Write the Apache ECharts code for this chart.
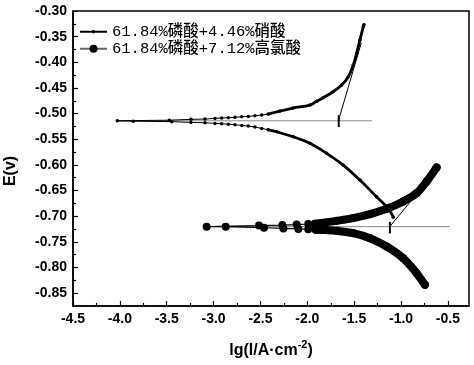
<!DOCTYPE html>
<html>
<head>
<meta charset="utf-8">
<script src="https://cdn.jsdelivr.net/npm/echarts@6/dist/echarts.min.js"></script>
<style>
html,body{margin:0;padding:0;background:#fff;}
#chart{width:474px;height:365px;}
</style>
</head>
<body>
<div id="chart"></div>
<script>
// ---- data ----
const seriesNames = ['61.84%磷酸+4.46%硝酸', '61.84%磷酸+7.12%高氯酸'];

const xTicks = [-4.5, -4.0, -3.5, -3.0, -2.5, -2.0, -1.5, -1.0, -0.5];
const xMinorTicks = [-4.25, -3.75, -3.25, -2.75, -2.25, -1.75, -1.25, -0.75];
const yTicks = [-0.85, -0.80, -0.75, -0.70, -0.65, -0.60, -0.55, -0.50, -0.45, -0.40, -0.35, -0.30];
const yMinorTicks = [-0.825, -0.775, -0.725, -0.675, -0.625, -0.575, -0.525, -0.475, -0.425, -0.375, -0.325];

// series 1 (nitric acid): [lg I, E]
const s1Cathodic = [[-3.857,-0.5147],[-3.447,-0.5157],[-3.241,-0.5171],[-3.092,-0.5179],[-2.985,-0.5191],[-2.914,-0.5199],[-2.843,-0.5205],[-2.772,-0.5218],[-2.700,-0.5230],[-2.630,-0.5243],[-2.559,-0.5263],[-2.487,-0.5288],[-2.417,-0.5315],[-2.327,-0.5354],[-2.150,-0.5452],[-1.972,-0.5580],[-1.794,-0.5775],[-1.617,-0.6004],[-1.439,-0.6296],[-1.261,-0.6622],[-1.137,-0.6848],[-1.083,-0.7018]];
const s1Ecorr = [[-4.027,-0.5140]];
const s1Anodic = [[-3.473,-0.5128],[-3.241,-0.5112],[-3.092,-0.5106],[-2.985,-0.5093],[-2.914,-0.5087],[-2.843,-0.5081],[-2.772,-0.5073],[-2.700,-0.5062],[-2.630,-0.5054],[-2.559,-0.5042],[-2.487,-0.5028],[-2.417,-0.5009],[-2.292,-0.4950],[-2.153,-0.4892],[-1.972,-0.4833],[-1.900,-0.4760],[-1.830,-0.4690],[-1.724,-0.4574],[-1.634,-0.4443],[-1.563,-0.4281],[-1.510,-0.4053],[-1.474,-0.3825],[-1.439,-0.3566],[-1.403,-0.3306],[-1.396,-0.3270]];

// series 2 (perchloric acid)
const s2Cathodic = [[-2.871,-0.7205],[-2.463,-0.7225],[-2.256,-0.7238],[-2.096,-0.7248],[-1.990,-0.7256],[-1.911,-0.7262],[-1.800,-0.7270],[-1.687,-0.7285],[-1.510,-0.7330],[-1.332,-0.7428],[-1.154,-0.7590],[-0.977,-0.7818],[-0.834,-0.8110],[-0.745,-0.8338]];
const s2Ecorr = [[-3.074,-0.7203]];
const s2Anodic = [[-2.516,-0.7182],[-2.267,-0.7172],[-2.114,-0.7162],[-1.990,-0.7152],[-1.919,-0.7145],[-1.865,-0.7135],[-1.687,-0.7090],[-1.510,-0.7037],[-1.332,-0.6960],[-1.154,-0.6856],[-0.977,-0.6712],[-0.834,-0.6550],[-0.727,-0.6322],[-0.621,-0.6049]];

// Tafel extrapolation construction lines
const tafel1Base = [[-4.027,-0.514],[-1.31,-0.514]];
const tafel1Line = [[-1.424,-0.362],[-1.665,-0.512]];
const tafel1Mark = [[-1.665,-0.503],[-1.665,-0.526]];
const tafel2Base = [[-3.074,-0.7203],[-0.48,-0.7203]];
const tafel2Line = [[-0.852,-0.661],[-1.119,-0.720]];
const tafel2Mark = [[-1.119,-0.711],[-1.119,-0.7335]];

// ---- build ----
const s1All = s1Cathodic.slice().reverse().concat(s1Ecorr, s1Anodic);
const s2All = s2Cathodic.slice().reverse().concat(s2Ecorr, s2Anodic);
const s1BandC = s1Cathodic.filter(p => p[0] > -2.45);
const s1BandA = s1Anodic.filter(p => p[0] > -2.45);
const s2BandC = s2Cathodic.filter(p => p[0] > -1.95);
const s2BandA = s2Anodic.filter(p => p[0] > -1.95);

const labelFont = {color:'#000', fontFamily:'Liberation Sans, Arial, sans-serif', fontWeight:'bold', fontSize:14};
const legendFont = {color:'#000', fontSize:15.5, fontWeight:500, fontFamily:"'Liberation Mono','Noto Sans CJK SC',monospace"};

function helper(data, color, width) {
  return {type:'line', data:data, symbol:'none', silent:true, z:1,
    lineStyle:{color:color, width:width}, xAxisIndex:0, yAxisIndex:0};
}
function band(data, width) {
  return {type:'line', data:data, symbol:'none', smooth:0.35, silent:true, z:3,
    lineStyle:{color:'#000', width:width, cap:'round', join:'round'}, xAxisIndex:0, yAxisIndex:0};
}

const chart = echarts.init(document.getElementById('chart'), null, {renderer:'canvas'});
chart.setOption({
  animation:false,
  backgroundColor:'#fff',
  grid:{left:73, right:5, top:11, bottom:59, show:true, borderColor:'#000', borderWidth:1.5},
  legend:[
    {data:[seriesNames[0]], left:79, top:24, padding:0, itemWidth:27, itemHeight:4.5, textStyle:legendFont},
    {data:[{name:seriesNames[1], lineStyle:{color:'#666'}}], left:79, top:41, padding:0, itemWidth:27, itemHeight:10, textStyle:legendFont}
  ],
  xAxis:[
    {type:'value', min:-4.5, max:-0.275, position:'bottom',
     axisLine:{show:true, lineStyle:{color:'#000', width:1.5}},
     axisTick:{show:true, inside:true, length:5, customValues:xTicks, lineStyle:{color:'#000', width:1.2}},
     axisLabel:Object.assign({customValues:xTicks, margin:6, formatter:v => v.toFixed(1)}, labelFont),
     splitLine:{show:false}},
    {type:'value', min:-4.5, max:-0.275, position:'bottom',
     axisLine:{show:false},
     axisTick:{show:true, inside:true, length:3, customValues:xMinorTicks, lineStyle:{color:'#000', width:1.2}},
     axisLabel:{show:false}, splitLine:{show:false}}
  ],
  yAxis:[
    {type:'value', min:-0.875, max:-0.30, position:'left',
     axisLine:{show:true, lineStyle:{color:'#000', width:1.5}},
     axisTick:{show:true, inside:true, length:5, customValues:yTicks, lineStyle:{color:'#000', width:1.2}},
     axisLabel:Object.assign({customValues:yTicks, margin:6, formatter:v => v.toFixed(2)}, labelFont),
     splitLine:{show:false}},
    {type:'value', min:-0.875, max:-0.30, position:'left',
     axisLine:{show:false},
     axisTick:{show:true, inside:true, length:3, customValues:yMinorTicks, lineStyle:{color:'#000', width:1.2}},
     axisLabel:{show:false}, splitLine:{show:false}}
  ],
  graphic:[
    {type:'text', x:11, y:171, rotation:Math.PI/2,
     style:{text:'E(v)', fill:'#000', font:'bold 16px "Liberation Sans", Arial, sans-serif', align:'center', verticalAlign:'middle'}},
    {type:'text', x:271, y:349,
     style:{text:'{a|lg(I/A·cm}{s|-2}{a|)}', align:'center', verticalAlign:'middle',
       rich:{
         a:{fontSize:16, fontWeight:'bold', fontFamily:'Liberation Sans, Arial, sans-serif', fill:'#000', color:'#000', verticalAlign:'bottom'},
         s:{fontSize:11, fontWeight:'bold', fontFamily:'Liberation Sans, Arial, sans-serif', fill:'#000', color:'#000', verticalAlign:'bottom', padding:[0,0,9,0]}
       }}}
  ],
  series:[
    helper(tafel1Base, '#8a8a8a', 1),
    helper(tafel2Base, '#8a8a8a', 1),
    helper(tafel1Line, '#000', 1),
    helper(tafel2Line, '#000', 1),
    helper(tafel1Mark, '#000', 2),
    helper(tafel2Mark, '#000', 2),
    band(s2BandC, 8), band(s2BandA, 8),
    band(s1BandC, 2.8), band(s1BandA, 2.8),
    {name:seriesNames[0], type:'line', data:s1All, xAxisIndex:0, yAxisIndex:0, z:4,
     symbol:'circle', symbolSize:3.5, showAllSymbol:true,
     itemStyle:{color:'#000'}, lineStyle:{color:'#000', width:1}},
    {name:seriesNames[1], type:'line', data:s2All, xAxisIndex:0, yAxisIndex:0, z:2,
     symbol:'circle', symbolSize:8, showAllSymbol:true,
     itemStyle:{color:'#000'}, lineStyle:{color:'#000', width:1.2}}
  ]
});
</script>
</body>
</html>
